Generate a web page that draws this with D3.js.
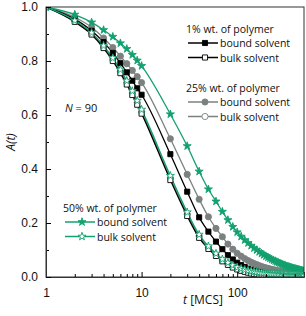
<!DOCTYPE html>
<html lang="en">
<head>
  <meta charset="UTF-8">
  <title>A(t) relaxation, N = 90</title>
  <script src="https://d3js.org/d3.v7.min.js"></script>
  <style>
    body { margin: 0; background: #fff; }
    svg { display: block; font-family: "Open Sans", sans-serif; }
  </style>
</head>
<body>
<svg width="306" height="316"></svg>
<script>
  // time steps (MCS) where points were sampled
  const tSteps = [1,2,3,4,5,6,7,8,9,10,
    20,30,40,50,60,70,80,90,100,110,
    120,130,140,150,160,170,180,190,200,210,
    220,230,240,250,260,270,280,290,300,310,
    320,330,340,350,360,370,380,390,400,410,
    420,430,440,450,460,470,480,490,500];

  // 1% wt. of polymer
  const boundLow = [1.000,0.955,0.912,0.870,0.830,0.792,0.758,0.727,0.699,0.675,
    0.455,0.316,0.221,0.168,0.131,0.103,0.081,0.065,0.053,0.044,
    0.037,0.031,0.027,0.023,0.020,0.018,0.016,0.014,0.012,0.011,
    0.010,0.009,0.008,0.007,0.007,0.006,0.006,0.005,0.005,0.005,
    0.004,0.004,0.004,0.004,0.003,0.003,0.003,0.003,0.003,0.003,
    0.002,0.002,0.002,0.002,0.002,0.002,0.002,0.002,0.002];
  const bulkLow = [1.000,0.945,0.898,0.848,0.800,0.755,0.713,0.674,0.638,0.605,
    0.359,0.226,0.145,0.104,0.078,0.058,0.045,0.035,0.028,0.023,
    0.019,0.016,0.013,0.011,0.010,0.008,0.007,0.006,0.005,0.005,
    0.004,0.004,0.003,0.003,0.003,0.002,0.002,0.002,0.002,0.002,
    0.001,0.001,0.001,0.001,0.001,0.001,0.001,0.001,0.001,0.001,
    0.001,0.001,0.001,0.001,0.001,0.001,0.001,0.001,0.001];

  // 25% wt. of polymer
  const boundMid = [1.000,0.962,0.925,0.885,0.850,0.818,0.790,0.765,0.742,0.720,
    0.512,0.380,0.288,0.223,0.180,0.149,0.122,0.103,0.088,0.077,
    0.068,0.061,0.055,0.050,0.046,0.042,0.039,0.036,0.034,0.032,
    0.030,0.028,0.027,0.025,0.024,0.022,0.021,0.020,0.019,0.018,
    0.017,0.016,0.015,0.015,0.014,0.013,0.013,0.012,0.012,0.011,
    0.011,0.010,0.010,0.009,0.009,0.009,0.008,0.008,0.008];
  const bulkMid = [1.000,0.948,0.902,0.853,0.806,0.762,0.720,0.682,0.646,0.613,
    0.367,0.233,0.151,0.109,0.082,0.062,0.048,0.038,0.031,0.026,
    0.022,0.018,0.015,0.013,0.011,0.010,0.009,0.008,0.007,0.006,
    0.006,0.005,0.005,0.004,0.004,0.004,0.003,0.003,0.003,0.003,
    0.003,0.002,0.002,0.002,0.002,0.002,0.002,0.002,0.002,0.002,
    0.002,0.002,0.001,0.001,0.001,0.001,0.001,0.001,0.001];

  // 50% wt. of polymer
  const boundHigh = [1.000,0.972,0.943,0.915,0.890,0.866,0.845,0.823,0.802,0.782,
    0.603,0.485,0.391,0.325,0.280,0.242,0.211,0.186,0.166,0.150,
    0.137,0.126,0.116,0.107,0.100,0.093,0.087,0.082,0.077,0.073,
    0.069,0.065,0.062,0.059,0.056,0.053,0.051,0.048,0.046,0.044,
    0.042,0.040,0.039,0.037,0.036,0.034,0.033,0.032,0.031,0.030,
    0.029,0.028,0.027,0.026,0.025,0.024,0.023,0.022,0.021];
  const bulkHigh = [1.000,0.950,0.905,0.857,0.811,0.768,0.727,0.689,0.653,0.620,
    0.375,0.240,0.157,0.114,0.087,0.066,0.053,0.043,0.036,0.031,
    0.027,0.024,0.022,0.020,0.018,0.017,0.016,0.015,0.014,0.013,
    0.013,0.012,0.012,0.011,0.011,0.010,0.010,0.010,0.009,0.009,
    0.009,0.008,0.008,0.008,0.008,0.007,0.007,0.007,0.007,0.007,
    0.006,0.006,0.006,0.006,0.006,0.006,0.006,0.005,0.005];

  const xTicks = [1, 10, 100];
  const yTicks = [0, 0.2, 0.4, 0.6, 0.8, 1.0];

  const black = "#000", gray = "#7b8080", green = "#12a06e";

  const series = [
    { vals: boundMid, color: gray, shape: "circle", filled: true },
    { vals: bulkMid, color: gray, shape: "circle", filled: false },
    { vals: boundLow, color: black, shape: "square", filled: true },
    { vals: bulkLow, color: black, shape: "square", filled: false },
    { vals: boundHigh, color: green, shape: "star", filled: true },
    { vals: bulkHigh, color: green, shape: "star", filled: false }
  ];

  const svg = d3.select("svg");
  const margin = {top: 7, right: 2, bottom: 39, left: 46};
  const width = +svg.attr("width") - margin.left - margin.right;
  const height = +svg.attr("height") - margin.top - margin.bottom;
  const g = svg.append("g").attr("transform", `translate(${margin.left},${margin.top})`);

  const x = d3.scaleLog().domain([1, 500]).range([0, width]);
  const y = d3.scaleLinear().domain([0, 1]).range([height, 0]);

  const symType = { circle: d3.symbolCircle, square: d3.symbolSquare, star: d3.symbolStar };
  const symSize = { circle: 30, square: 26, star: 20 };
  const sym = s => d3.symbol().type(symType[s]).size(symSize[s])();

  g.append("defs").append("clipPath").attr("id", "clip")
    .append("rect").attr("width", width).attr("height", height);

  const plot = g.append("g").attr("clip-path", "url(#clip)");
  const line = d3.line()
    .x((d, i) => x(tSteps[i]))
    .y(d => y(d))
    .curve(d3.curveMonotoneX);

  series.forEach(s => {
    plot.append("path")
      .attr("d", line(s.vals))
      .attr("fill", "none")
      .attr("stroke", s.color)
      .attr("stroke-width", 1.3);
  });
  series.forEach(s => {
    plot.selectAll(null)
      .data(s.vals)
      .join("path")
        .attr("transform", (d, i) => `translate(${x(tSteps[i])},${y(d)})`)
        .attr("d", sym(s.shape))
        .attr("fill", s.filled ? s.color : "#fff")
        .attr("stroke", s.color)
        .attr("stroke-width", 0.9);
  });

  // frame
  g.append("rect")
    .attr("width", width).attr("height", height)
    .attr("fill", "none").attr("stroke", "#333").attr("stroke-width", 1);

  // axes, ticks inside
  const xMinor = [];
  [1, 10, 100].forEach(dec => d3.range(2, 10).forEach(k => { if (dec * k <= 500) xMinor.push(dec * k); }));
  g.append("g")
    .attr("transform", `translate(0,${height})`)
    .call(d3.axisBottom(x).tickValues(xMinor).tickSize(-3).tickFormat(""))
    .call(a => a.select(".domain").remove());
  g.append("g")
    .attr("transform", `translate(0,${height})`)
    .call(d3.axisBottom(x).tickValues(xTicks).tickSize(-5).tickPadding(11).tickFormat(d3.format("d")))
    .call(a => a.select(".domain").attr("stroke", "#333"))
    .call(a => a.selectAll("text").attr("font-size", 12).attr("fill", "#111"));

  g.append("g")
    .call(d3.axisLeft(y).tickValues(d3.range(0.1, 1, 0.2)).tickSize(-3).tickFormat(""))
    .call(a => a.select(".domain").remove());
  g.append("g")
    .call(d3.axisLeft(y).tickValues(yTicks).tickSize(-5).tickPadding(8).tickFormat(d3.format(".1f")))
    .call(a => a.select(".domain").attr("stroke", "#333"))
    .call(a => a.selectAll("text").attr("font-size", 12).attr("fill", "#111"));

  // axis titles
  svg.append("text")
    .attr("x", 203).attr("y", 304)
    .attr("text-anchor", "middle").attr("font-size", 12).attr("fill", "#111")
    .html('<tspan font-style="italic">t</tspan> [MCS]');
  svg.append("text")
    .attr("transform", "translate(15,142) rotate(-90)")
    .attr("text-anchor", "middle").attr("font-size", 12).attr("font-style", "italic").attr("fill", "#111")
    .text("A(t)");

  svg.append("text")
    .attr("x", 65).attr("y", 112).attr("font-size", 11).attr("fill", "#111")
    .html('<tspan font-style="italic">N</tspan> = 90');

  // legend
  const legendGroups = [
    { title: "1% wt. of polymer", x: 186, y: 29, color: black, shape: "square", items: ["bound solvent", "bulk solvent"] },
    { title: "25% wt. of polymer", x: 186, y: 88, color: gray, shape: "circle", items: ["bound solvent", "bulk solvent"] },
    { title: "50% wt. of polymer", x: 63, y: 208, color: green, shape: "star", items: ["bound solvent", "bulk solvent"] }
  ];
  legendGroups.forEach(lg => {
    svg.append("text")
      .attr("x", lg.x).attr("y", lg.y + 4)
      .attr("font-size", 10.5).attr("fill", "#111")
      .text(lg.title);
    lg.items.forEach((label, i) => {
      const ry = lg.y + 14 + i * 14.5;
      const row = svg.append("g").attr("transform", `translate(${lg.x + 2},${ry})`);
      row.append("line").attr("x1", 0).attr("x2", 30)
        .attr("stroke", lg.color).attr("stroke-width", 1.5);
      row.append("path")
        .attr("transform", "translate(17,0)")
        .attr("d", sym(lg.shape))
        .attr("fill", i === 0 ? lg.color : "#fff")
        .attr("stroke", lg.color).attr("stroke-width", 0.9);
      row.append("text")
        .attr("x", 32).attr("y", 4)
        .attr("font-size", 10.5).attr("fill", "#111")
        .text(label);
    });
  });
</script>
</body>
</html>
